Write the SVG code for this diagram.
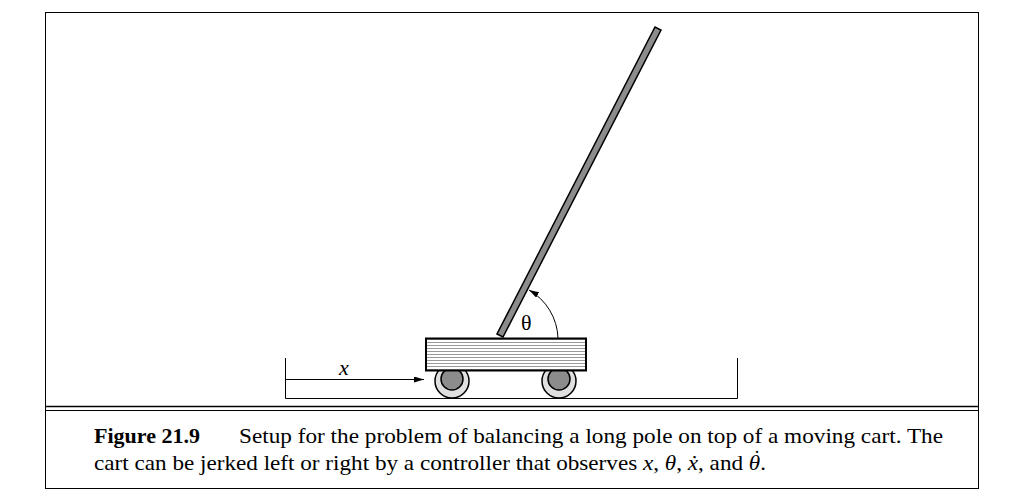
<svg xmlns="http://www.w3.org/2000/svg" width="1024" height="504" viewBox="0 0 1024 504">
<defs>
<marker id="ah" markerWidth="10" markerHeight="6" refX="10" refY="3" orient="auto" markerUnits="userSpaceOnUse"><path d="M0,0 L10,3 L0,6 Z" fill="#000"/></marker>
<pattern id="stripes" width="4" height="3" patternUnits="userSpaceOnUse"><rect width="4" height="3" fill="#fff"/><rect y="0" width="4" height="1" fill="#999"/></pattern>
</defs>
<style>
.t{font-family:"Liberation Serif",serif;font-size:22px;fill:#000}
.ln{stroke:#000;stroke-width:1;fill:none}
</style>
<rect x="45.5" y="12.5" width="933" height="476" fill="#fff" stroke="#000"/>
<line x1="45" y1="406.5" x2="979" y2="406.5" stroke="#000" stroke-width="1.5"/>
<line x1="45" y1="410.5" x2="979" y2="410.5" stroke="#000" stroke-width="1"/>
<g id="track">
<path class="ln" d="M285.5,358 V398.5 H737.5 V358"/>
</g>
<g id="connectors">
<line class="ln" x1="286" y1="379.5" x2="424" y2="379.5" marker-end="url(#ah)"/>
<path class="ln" d="M558,338 A58,58 0 0 0 529,290" marker-end="url(#ah)"/>
</g>
<g id="pole">
<polygon points="497,334 503,337 661,30 655,27" fill="#8c8c8c" stroke="#000" stroke-width="1.5"/>
</g>
<g id="cart">
<circle cx="452" cy="381" r="17" fill="#e0e0e0" stroke="#000" stroke-width="1.5"/>
<circle cx="452" cy="379" r="11" fill="#8c8c8c" stroke="#000" stroke-width="1.5"/>
<circle cx="559" cy="381" r="17" fill="#e0e0e0" stroke="#000" stroke-width="1.5"/>
<circle cx="559" cy="379" r="11" fill="#8c8c8c" stroke="#000" stroke-width="1.5"/>
<rect x="426" y="338.5" width="160" height="32" fill="url(#stripes)" stroke="#000" stroke-width="2"/>
</g>
<text class="t" x="339" y="375" font-style="italic">x</text>
<text class="t" x="521" y="330">θ</text>
<g id="caption">
<text class="t" x="94" y="443" font-weight="bold">Figure 21.9</text>
<text class="t" x="239" y="443" textLength="704" lengthAdjust="spacingAndGlyphs">Setup for the problem of balancing a long pole on top of a moving cart. The</text>
<text class="t" x="94" y="470" textLength="672" lengthAdjust="spacingAndGlyphs">cart can be jerked left or right by a controller that observes <tspan font-style="italic">x</tspan>, <tspan font-style="italic">θ</tspan>, <tspan font-style="italic">ẋ</tspan>, and <tspan font-style="italic">θ</tspan>.</text>
<text class="t" x="754" y="458" style="font-size:18px">·</text>
</g>
</svg>
